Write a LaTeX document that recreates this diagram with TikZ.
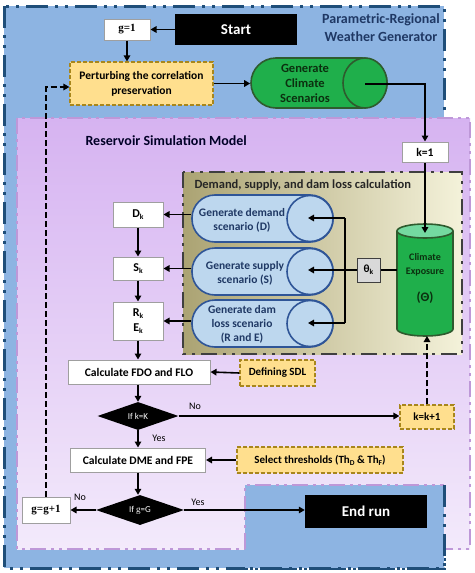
\documentclass[tikz,border=0pt]{standalone}
\usepackage{fontspec}
\setmainfont{Carlito}
\newfontfamily\gserif{Liberation Serif}
\usetikzlibrary{shapes.geometric,arrows.meta,calc}
\definecolor{bluebg}{HTML}{8DB4E2}
\definecolor{blueborder}{HTML}{1F4E79}
\definecolor{purtop}{HTML}{D6B3F1}
\definecolor{purbot}{HTML}{F3EAFB}
\definecolor{purborder}{HTML}{BE98D8}
\definecolor{olivedark}{HTML}{ABA373}
\definecolor{olivelight}{HTML}{F4F2DA}
\definecolor{olborder}{HTML}{3F3F3F}
\definecolor{yfill}{HTML}{FFDF8E}
\definecolor{ydark}{HTML}{A8861C}
\definecolor{capfill}{HTML}{BDD7EE}
\definecolor{capborder}{HTML}{2F5597}
\definecolor{captext}{HTML}{1F3864}
\definecolor{gfill}{HTML}{1FAF4B}
\definecolor{gtop}{HTML}{74D9A0}
\definecolor{gborder}{HTML}{2E5B2E}
\definecolor{darkgrntxt}{HTML}{0B300F}
\definecolor{titleblue}{HTML}{1F3864}
\newcommand\sbk[1]{\raisebox{-0.35ex}{\fontsize{7.5}{8}\selectfont #1}}
\tikzset{
  outerb/.style={draw=blueborder, line width=3pt, dash pattern=on 22pt off 7pt on 3pt off 7pt on 3pt off 7pt},
  purb/.style={draw=purborder, line width=1.6pt, dash pattern=on 16pt off 5pt on 3pt off 5pt on 3pt off 5pt},
  olb/.style={draw=olborder, line width=2.2pt, dash pattern=on 16pt off 6pt on 3pt off 6pt on 3pt off 6pt},
  wbox/.style={draw=gray!75, line width=1pt, fill=white, inner sep=0pt, align=center, font=\bfseries\fontsize{11.6}{13}\selectfont},
  ybox/.style={draw=ydark, dash pattern=on 4pt off 2pt, line width=1.2pt, fill=yfill, inner sep=0pt, align=center, font=\bfseries\fontsize{11}{13}\selectfont},
  blackbox/.style={fill=black, text=white, inner sep=0pt, font=\bfseries\fontsize{15}{17}\selectfont},
  dia/.style={diamond, aspect=3, fill=black, text=white, inner sep=0pt, font=\fontsize{9}{10}\selectfont},
  arr/.style={line width=1.6pt, -{Triangle[length=6pt,width=6.5pt]}},
  darr/.style={arr, dash pattern=on 6pt off 3pt},
  capsule/.style={rectangle, rounded corners=23pt, draw=capborder, fill=capfill, line width=1.6pt, minimum width=141pt, minimum height=47pt, inner sep=0pt},
  captxt/.style={align=center, text=captext, font=\bfseries\fontsize{11.5}{14}\selectfont},
  grntxt/.style={align=center, text=darkgrntxt},
  titletxt/.style={font=\bfseries\fontsize{14}{18}\selectfont},
  yn/.style={font=\fontsize{10}{11}\selectfont},
}
\begin{document}
\begin{tikzpicture}[x=1pt,y=-1pt]
\useasboundingbox (0,0) rectangle (474,573);
% outer blue region
\fill[bluebg] (4,6) rectangle (444,568);
\draw[outerb] (4,6) rectangle (444,568);
% purple region
\shade[top color=purtop, bottom color=purbot] (17,118) rectangle (470,549);
\draw[purb] (17,118) rectangle (470,549);
% blue cut-out
\fill[bluebg] (245,485) rectangle (444,568);
\draw[purb] (245,549) -- (245,485) -- (444,485);
\draw[outerb] (444,485) -- (444,568) -- (245,568);
% olive box
\shade[left color=olivedark, right color=olivelight] (183,172) rectangle (462,354);
\draw[olb] (183,172) rectangle (462,354);

% titles
\node[titletxt, text=titleblue, align=center] (pwgt) at (381,28) {Parametric-Regional\\Weather Generator};
\node[titletxt, text=black!85!blue, anchor=west] (rsmt) at (82,141) {Reservoir Simulation Model};
\node[font=\bfseries\fontsize{12.5}{14}\selectfont, text=black!85, anchor=west] (dslt) at (191,185) {Demand, supply, and dam loss calculation};

% top part
\node[blackbox, minimum width=122pt, minimum height=31pt] (start) at (236,29.5) {Start};
\node[wbox, minimum width=46pt, minimum height=21pt, font=\gserif\bfseries\fontsize{11}{13}\selectfont] (g1) at (127,29.5) {g=1};
\node[ybox, minimum width=143pt, minimum height=43pt, font=\bfseries\fontsize{11.5}{15}\selectfont] (pert) at (141.5,83.5) {Perturbing the correlation\\preservation};
\node[rectangle, rounded corners=25pt, draw=gborder, fill=gfill, line width=1.6pt, minimum width=136pt, minimum height=50pt, inner sep=0pt] (gcs) at (319,83) {};
\draw[draw=gborder, fill=gfill, line width=1.6pt] (365,83) ellipse [x radius=22, y radius=25];
\coordinate (gcsc) at (365,84);
\node[grntxt, font=\bfseries\fontsize{12.5}{15}\selectfont] (gcst) at (305,83) {Generate\\Climate\\Scenarios};
\node[wbox, minimum width=46pt, minimum height=20pt] (k1) at (425,152) {k=1};

% climate exposure cylinder
\draw[draw=gborder, fill=gfill, line width=1.6pt] (425,329) ellipse [x radius=28, y radius=7];
\fill[gfill] (397,231) rectangle (453,329);
\draw[gborder, line width=1.6pt] (397,231) -- (397,329) (453,231) -- (453,329);
\draw[draw=gborder, fill=gtop, line width=1.6pt] (425,231) ellipse [x radius=28, y radius=7];
\node[minimum width=56pt, minimum height=105pt, inner sep=0pt] (cex) at (425,283) {};
\node[grntxt, font=\bfseries\fontsize{10}{14}\selectfont] (cext) at (425,265) {Climate\\Exposure};
\node[grntxt, font=\bfseries\fontsize{13}{15}\selectfont] (cexs) at (425,298) {(Θ)};
\coordinate (cextop) at (425,233);
\coordinate (cexbot) at (427,336);

% capsules
\node[capsule] (dcap) at (262.5,218.5) {};
\node[capsule] (scap) at (262.5,271.5) {};
\node[capsule] (lcap) at (262.5,323.5) {};
\draw[draw=capborder, fill=capfill, line width=1.6pt] (310,218.5) circle (23);
\draw[draw=capborder, fill=capfill, line width=1.6pt] (310,271.5) circle (23);
\draw[draw=capborder, fill=capfill, line width=1.6pt] (310,323.5) circle (23);
\coordinate (dcin) at (308,218);
\coordinate (scin) at (308,270);
\coordinate (lcin) at (308,323);
\node[captxt] (dcapt) at (242,220) {Generate demand\\scenario (D)};
\node[captxt] (scapt) at (245,273) {Generate supply\\scenario (S)};
\node[captxt] (lcapt) at (242,324) {Generate dam\\loss scenario\\(R and E)};

\node[draw=olborder, fill=gray!30, line width=1pt, minimum width=23pt, minimum height=24pt, inner sep=0pt, font=\bfseries\fontsize{11}{13}\selectfont] (theta) at (368.5,270) {θ\sbk{k}};
\coordinate (jt) at (345,218);
\coordinate (jm) at (345,270);
\coordinate (jb) at (345,323);

% left column
\node[wbox, minimum width=50pt, minimum height=25pt, font=\bfseries\fontsize{12}{13}\selectfont] (dk) at (138,214.5) {D\sbk{k}};
\node[wbox, minimum width=50pt, minimum height=23pt, font=\bfseries\fontsize{12}{13}\selectfont] (sk) at (138,268.5) {S\sbk{k}};
\node[wbox, minimum width=50pt, minimum height=38pt, font=\bfseries\fontsize{12}{15}\selectfont] (rek) at (138,321) {R\sbk{k}\\E\sbk{k}};
\node[wbox, minimum width=142pt, minimum height=24pt] (fdo) at (139,372) {Calculate FDO and FLO};
\node[ybox, minimum width=75pt, minimum height=26pt] (sdl) at (277.5,373) {Defining SDL};
\node[dia, minimum width=81pt, minimum height=28pt] (dk1) at (138,416) {If k=K};
\node[ybox, minimum width=54pt, minimum height=24pt] (kk1) at (427,417) {k=k+1};
\node[wbox, minimum width=135pt, minimum height=24pt] (dme) at (138,460) {Calculate DME and FPE};
\node[ybox, minimum width=166pt, minimum height=26pt] (thr) at (320,460) {Select thresholds (Th\sbk{D} \& Th\sbk{F})};
\node[dia, minimum width=88pt, minimum height=30pt] (dk2) at (140,510) {If {\gserif g}=G};
\node[wbox, minimum width=48pt, minimum height=26pt, font=\gserif\bfseries\fontsize{11}{13}\selectfont] (gg1) at (46,510) {g=g+1};
\node[blackbox, minimum width=122pt, minimum height=33pt] (endr) at (366,511.5) {End run};

% labels
\node[yn] (no1) at (195,406) {No};
\node[yn] (yes1) at (159,438) {Yes};
\node[yn] (no2) at (80,497) {No};
\node[yn] (yes2) at (198,502) {Yes};

% connectors
\draw[arr] (start.west) -- (g1.east);
\draw[arr] (g1.south) -- (g1.south |- pert.north);
\draw[arr] (pert.east) -- (pert.east -| gcs.west);
\draw[arr] (gcsc) -- (gcsc -| k1.north) -- (k1.north);
\draw[arr] (k1.south) -- (cextop);
\draw[line width=1.6pt] (cex.west |- theta.east) -- (theta.east);
\draw[line width=1.6pt] (jt) -- (jb);
\draw[arr] (theta.west) -- (scin);
\draw[arr] (jt) -- (dcin);
\draw[arr] (jb) -- (lcin);
\draw[arr] (dk.east -| dcap.west) -- (dk.east);
\draw[arr] (sk.east -| scap.west) -- (sk.east);
\draw[arr] (rek.east -| lcap.west) -- (rek.east);
\draw[arr] (dk.south) -- (sk.north);
\draw[arr] (sk.south) -- (rek.north);
\draw[arr] (rek.south) -- (rek.south |- fdo.north);
\draw[arr] (sdl.west) -- (fdo.east);
\draw[arr] (fdo.south -| dk1.north) -- (dk1.north);
\draw[arr] (dk1.east) -- (dk1.east -| kk1.west);
\draw[darr] (kk1.north) -- (cexbot);
\draw[arr] (dk1.south) -- (dk1.south |- dme.north);
\draw[arr] (thr.west) -- (dme.east);
\draw[arr] (dme.south) -- (dme.south |- dk2.north);
\draw[arr] (dk2.west) -- (dk2.west -| gg1.east);
\draw[arr] (dk2.east) -- (dk2.east -| endr.west);
\draw[darr] (gg1.north) -- (gg1.north |- 0,87) -- (pert.west |- 0,87);
\end{tikzpicture}
\end{document}
